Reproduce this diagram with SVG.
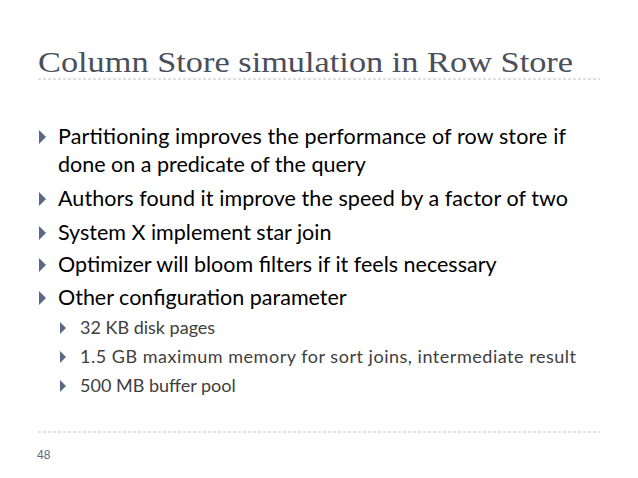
<svg xmlns="http://www.w3.org/2000/svg" width="638" height="478" viewBox="0 0 638 478">
<style>
.t{font-family:"Liberation Serif",serif;font-size:29px;fill:#4a4f5a}
.b{font-family:"Lato","Open Sans",sans-serif;font-size:21.5px;fill:#000}
.s{font-family:"Lato","Open Sans",sans-serif;font-size:18px;fill:#404040}
.bl{fill:#5a6a85}
.d{stroke:#b8c4d4;stroke-width:1;stroke-dasharray:3,2}
</style>
<rect width="638" height="478" fill="#fff"/>
<text class="t" x="38" y="72" textLength="535" lengthAdjust="spacingAndGlyphs">Column Store simulation in Row Store</text>
<line class="d" x1="38" y1="79" x2="600" y2="79"/>
<g id="bullets">
<polygon class="bl" points="39,130 39,144 46,137"/>
<text class="b" x="58" y="144" textLength="508">Partitioning improves the performance of row store if</text>
<text class="b" x="58" y="172">done on a predicate of the query</text>
<polygon class="bl" points="39,192 39,206 46,199"/>
<text class="b" x="58" y="206" textLength="510">Authors found it improve the speed by a factor of two</text>
<polygon class="bl" points="39,226 39,240 46,233"/>
<text class="b" x="58" y="240">System X implement star join</text>
<polygon class="bl" points="39,258 39,272 46,265"/>
<text class="b" x="58" y="272">Optimizer will bloom filters if it feels necessary</text>
<polygon class="bl" points="39,291 39,305 46,298"/>
<text class="b" x="58" y="305">Other configuration parameter</text>
<polygon class="bl" points="60,322 60,334 66,328"/>
<text class="s" x="80" y="334">32 KB disk pages</text>
<polygon class="bl" points="60,351 60,363 66,357"/>
<text class="s" x="80" y="363" textLength="496">1.5 GB maximum memory for sort joins, intermediate result</text>
<polygon class="bl" points="60,380 60,392 66,386"/>
<text class="s" x="80" y="392">500 MB buffer pool</text>
</g>
<line class="d" x1="38" y1="432" x2="600" y2="432"/>
<text x="37" y="459" style="font-family:'Liberation Sans',sans-serif;font-size:12px;fill:#5a6a85">48</text>
</svg>
